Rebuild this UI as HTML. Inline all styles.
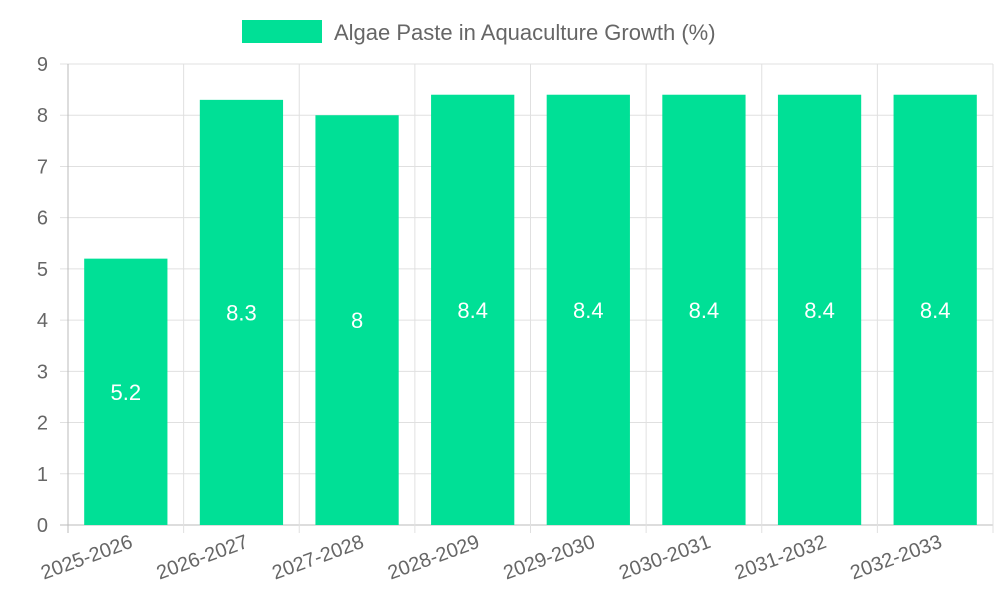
<!DOCTYPE html>
<html><head><meta charset="utf-8"><style>
body{margin:0;background:#fff;}
svg text{font-family:"Liberation Sans",sans-serif;}
</style></head><body>
<svg id="chart" width="1000" height="600" xmlns="http://www.w3.org/2000/svg">
<rect x="242" y="20" width="80" height="23" fill="#00e096"/>
<text x="334" y="40" font-size="22" fill="#666">Algae Paste in Aquaculture Growth (%)</text>
<g id="grid"></g><g id="bars"></g><g id="labels"></g>
</svg>
<script>
const categories=["2025-2026","2026-2027","2027-2028","2028-2029","2029-2030","2030-2031","2031-2032","2032-2033"];
const values=[5.2,8.3,8,8.4,8.4,8.4,8.4,8.4];
const yTicks=[0,1,2,3,4,5,6,7,8,9];
const L=68,R=993,T=64,B=525,yMax=9;
const NS="http://www.w3.org/2000/svg";
const bw=(R-L)/categories.length;
const y=v=>B-(v/yMax)*(B-T);
const x=i=>L+i*bw;
function mk(tag,attrs,parent,txt){const e=document.createElementNS(NS,tag);for(const k in attrs)e.setAttribute(k,attrs[k]);if(txt!==undefined)e.textContent=txt;document.getElementById(parent).appendChild(e);return e;}
yTicks.forEach(t=>{
  const g=mk('line',{x1:L-8,x2:R,y1:y(t),y2:y(t),stroke:t===0?'#bbb':'#e0e0e0','stroke-width':1},'grid');
  
  
  const l=mk('text',{x:L-20,y:y(t)+7,'text-anchor':'end','font-size':20,fill:'#666'},'labels',String(t));
  
  
});
for(let i=0;i<=categories.length;i++){
  const g=mk('line',{x1:x(i),x2:x(i),y1:T,y2:B+8,stroke:i===0?'#bbb':'#e0e0e0','stroke-width':1},'grid');
  
  
}
categories.forEach((c,i)=>{
  const w=bw*0.72,bx=x(i)+(bw-w)/2,by=y(values[i]);
  const r=mk('rect',{x:bx,y:by,width:w,height:B-by,fill:'#00e096'},'bars');
  
  
  const v=mk('text',{x:x(i)+bw/2,y:(by+B)/2+8,'text-anchor':'middle','font-size':22,fill:'#fff'},'labels',String(values[i]));
  
  
  const cx=x(i)+bw/2+8,cy=B+22;
  const t=mk('text',{x:cx,y:cy,'text-anchor':'end','font-size':20,fill:'#666',transform:`rotate(-20 ${cx} ${cy})`},'labels',c);
  
  
});
</script>
</body></html>
